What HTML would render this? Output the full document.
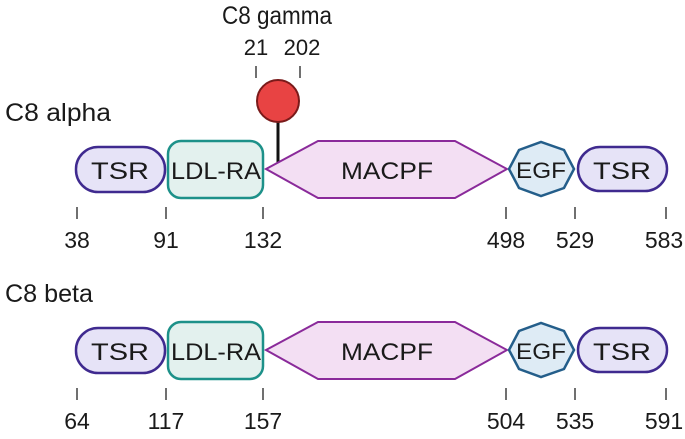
<!DOCTYPE html>
<html><head><meta charset="utf-8"><style>
html,body{margin:0;padding:0;background:#fff;}
svg{display:block;}
text{font-family:"Liberation Sans",sans-serif;fill:#1a1a1a;}
</style></head><body>
<svg width="685" height="439" viewBox="0 0 685 439" xmlns="http://www.w3.org/2000/svg">
<text x="277" y="24" font-size="25" text-anchor="middle" textLength="110" lengthAdjust="spacingAndGlyphs">C8 gamma</text>
<text x="256" y="55" font-size="22" text-anchor="middle">21</text>
<text x="302" y="55" font-size="22" text-anchor="middle">202</text>
<line x1="256" y1="66" x2="256" y2="78" stroke="#222" stroke-width="1.3"/>
<line x1="300" y1="66" x2="300" y2="78" stroke="#222" stroke-width="1.3"/>
<line x1="278" y1="120" x2="278" y2="164" stroke="#111" stroke-width="3"/>
<circle cx="278" cy="101" r="21" fill="#e84343" stroke="#7a1a1a" stroke-width="2"/>
<text x="5" y="121" font-size="25" textLength="106" lengthAdjust="spacingAndGlyphs">C8 alpha</text>
<text x="5" y="302" font-size="25" textLength="88" lengthAdjust="spacingAndGlyphs">C8 beta</text>

<g id="row">
<rect x="76" y="147" width="89" height="45" rx="22" fill="#e6e3f7" stroke="#3f2a8f" stroke-width="2.5"/>
<text x="120" y="179" font-size="24" text-anchor="middle" textLength="58" lengthAdjust="spacingAndGlyphs">TSR</text>
<rect x="168" y="141" width="95" height="57" rx="13" fill="#e3f1ee" stroke="#1d9189" stroke-width="2.5"/>
<text x="216" y="179" font-size="24" text-anchor="middle" textLength="90" lengthAdjust="spacingAndGlyphs">LDL-RA</text>
<polygon points="266,169 318,141 455,141 507,169 455,198 318,198" fill="#f3dff3" stroke="#8a2a9a" stroke-width="2"/>
<text x="387" y="179" font-size="24" text-anchor="middle" textLength="92" lengthAdjust="spacingAndGlyphs">MACPF</text>
<polygon points="509,169 519,150 541,142 564,150 574,169 564,188 541,196 519,188" fill="#deebf5" stroke="#245e8a" stroke-width="2.5"/>
<text x="541" y="178" font-size="22" text-anchor="middle" textLength="50" lengthAdjust="spacingAndGlyphs">EGF</text>
<rect x="578" y="147" width="89" height="44" rx="22" fill="#e6e3f7" stroke="#3f2a8f" stroke-width="2.5"/>
<text x="622" y="179" font-size="24" text-anchor="middle" textLength="58" lengthAdjust="spacingAndGlyphs">TSR</text>
<g stroke="#222" stroke-width="1.3">
<line x1="77" y1="207" x2="77" y2="219"/><line x1="166" y1="207" x2="166" y2="219"/>
<line x1="263" y1="207" x2="263" y2="219"/><line x1="506" y1="207" x2="506" y2="219"/>
<line x1="575" y1="207" x2="575" y2="219"/><line x1="666" y1="207" x2="666" y2="219"/>
</g>
</g>
<g font-size="23" text-anchor="middle">
<text x="77" y="248">38</text><text x="166" y="248">91</text><text x="263" y="248">132</text>
<text x="506" y="248">498</text><text x="575" y="248">529</text><text x="664" y="248">583</text>
</g>
<use href="#row" transform="translate(0,181)"/>
<g font-size="23" text-anchor="middle">
<text x="77" y="429">64</text><text x="166" y="429">117</text><text x="263" y="429">157</text>
<text x="506" y="429">504</text><text x="575" y="429">535</text><text x="664" y="429">591</text>
</g>
</svg>
</body></html>
